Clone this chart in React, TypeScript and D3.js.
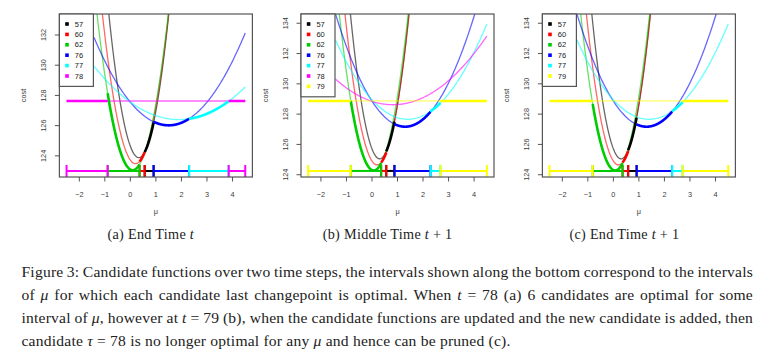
import * as d3 from "d3";
import { useEffect, useRef } from "react";

// R default palette, one colour per candidate last changepoint
const candColor: Record<number, string> = {
  57: "#000000",
  60: "#FF0000",
  62: "#00CD00",
  76: "#0000FF",
  77: "#00FFFF",
  78: "#FF00FF",
  79: "#FFFF00",
};

const xTicks = [-2, -1, 0, 1, 2, 3, 4];
const xDomain = [-2.78, 4.78];
const curveFrom = -1.43; // quadratic candidates are drawn from here
const flatFrom = -2.5; // flat (newest) candidate drawn from here
const muTo = 4.5;

// (a) End Time t  -- cost = minCost + curv * (mu - argmin)^2
const tauA = [57, 60, 62, 76, 77, 78];
const curvA = [6.9, 5.9, 5.3, 0.68, 0.32, 0];
const argminA = [0.33, 0.2, 0.09, 1.5, 1.9, 0];
const minCostA = [123.88, 123.48, 123.05, 126.02, 126.4, 127.63];
const intervalsA: [number, number, number][] = [
  [78, -2.5, -0.89],
  [62, -0.89, 0.36],
  [60, 0.36, 0.56],
  [57, 0.56, 0.91],
  [76, 0.91, 2.3],
  [77, 2.3, 3.85],
  [78, 3.85, 4.5],
];
const yTicksA = [124, 126, 128, 130, 132];

// (b) Middle Time t+1
const tauB = [57, 60, 62, 76, 77, 78, 79];
const curvB = [7.3, 6.3, 5.67, 1.0, 0.655, 0.335, 0];
const argminB = [0.3, 0.2, 0.07, 1.3, 1.4, 0.82, 0];
const minCostB = [125.05, 124.65, 124.28, 127.17, 127.66, 128.62, 128.87];
const intervalsB: [number, number, number][] = [
  [79, -2.5, -0.83],
  [62, -0.83, 0.36],
  [60, 0.36, 0.56],
  [57, 0.56, 0.88],
  [76, 0.88, 2.29],
  [77, 2.29, 2.68],
  [79, 2.68, 4.5],
];
const yTicksB = [124, 126, 128, 130, 132, 134];

// (c) End Time t+1 (candidate 78 pruned)
const tauC = [57, 60, 62, 76, 77, 79];
const curvC = [7.3, 6.3, 5.67, 1.0, 0.655, 0];
const argminC = [0.3, 0.2, 0.07, 1.3, 1.4, 0];
const minCostC = [125.05, 124.65, 124.28, 127.17, 127.66, 128.87];
const intervalsC: [number, number, number][] = [
  [79, -2.5, -0.81],
  [62, -0.81, 0.36],
  [60, 0.36, 0.58],
  [57, 0.58, 0.91],
  [76, 0.91, 2.3],
  [77, 2.3, 2.71],
  [79, 2.71, 4.5],
];

const subCaptions = [
  { label: "(a) End Time ", it: "t", rest: "" },
  { label: "(b) Middle Time ", it: "t", rest: " + 1" },
  { label: "(c) End Time ", it: "t", rest: " + 1" },
];

const plotTop = 14;
const plotH = 163;
const plotW = 193;
const axisFont = "Liberation Sans, Arial, sans-serif";
const axisGrey = "#3a3a3a";

type PanelProps = {
  id: string;
  left: number;
  tau: number[];
  curv: number[];
  argmin: number[];
  minCost: number[];
  intervals: [number, number, number][];
  yDomain: number[];
  yTicks: number[];
  level: number;
};

function Panel({ id, left, tau, curv, argmin, minCost, intervals, yDomain, yTicks, level }: PanelProps) {
  const x = d3.scaleLinear().domain(xDomain).range([left, left + plotW]);
  const y = d3.scaleLinear().domain(yDomain).range([plotTop + plotH, plotTop]);
  const bottom = plotTop + plotH;
  const cost = (i: number, mu: number) => minCost[i] + curv[i] * (mu - argmin[i]) ** 2;
  const line = d3
    .line<[number, number]>()
    .x((d) => x(d[0]))
    .y((d) => y(d[1]));
  const path = (i: number, lo: number, hi: number) => {
    const n = 160;
    const pts: [number, number][] = d3.range(n + 1).map((k) => {
      const mu = lo + ((hi - lo) * k) / n;
      return [mu, cost(i, mu)];
    });
    return line(pts) || "";
  };
  const ordered = [...intervals].sort((a, b) => a[0] - b[0]);
  const legendH = tau.length * 10.4 + 10;

  return (
    <g>
      <defs>
        <clipPath id={id}>
          <rect x={left} y={plotTop} width={plotW} height={plotH} />
        </clipPath>
      </defs>
      <g clipPath={`url(#${id})`}>
        {tau.map((t, i) => (
          <path
            key={"c" + t}
            d={path(i, curv[i] === 0 ? flatFrom : curveFrom, muTo)}
            fill="none"
            stroke={candColor[t]}
            strokeOpacity={0.6}
            strokeWidth={1.3}
          />
        ))}
        {ordered.map(([t, lo, hi], k) => {
          const i = tau.indexOf(t);
          return (
            <path
              key={"s" + k}
              d={path(i, lo, hi)}
              fill="none"
              stroke={candColor[t]}
              strokeWidth={2.6}
            />
          );
        })}
        {ordered.map(([t, lo, hi], k) => (
          <g key={"i" + k} stroke={candColor[t]} strokeWidth={2}>
            <line x1={x(lo)} x2={x(hi)} y1={y(level)} y2={y(level)} />
            <line x1={x(lo)} x2={x(lo)} y1={y(level) - 6} y2={y(level) + 6} />
            <line x1={x(hi)} x2={x(hi)} y1={y(level) - 6} y2={y(level) + 6} />
          </g>
        ))}
      </g>
      <rect x={left} y={plotTop} width={plotW} height={plotH} fill="none" stroke="#555" strokeWidth={1.2} />
      {xTicks.map((v) => (
        <g key={"x" + v}>
          <line x1={x(v)} x2={x(v)} y1={bottom} y2={bottom + 4.5} stroke="#555" strokeWidth={1} />
          <text
            x={x(v)}
            y={bottom + 19.5}
            textAnchor="middle"
            fontFamily={axisFont}
            fontSize={7.3}
            fill={axisGrey}
          >
            {v < 0 ? "\u2212" + Math.abs(v) : v}
          </text>
        </g>
      ))}
      {yTicks.map((v) => (
        <g key={"y" + v}>
          <line x1={left - 4.5} x2={left} y1={y(v)} y2={y(v)} stroke="#555" strokeWidth={1} />
          <text
            transform={`translate(${left - 13.5},${y(v)}) rotate(-90)`}
            textAnchor="middle"
            fontFamily={axisFont}
            fontSize={7.3}
            fill={axisGrey}
          >
            {v}
          </text>
        </g>
      ))}
      <text
        transform={`translate(${left - 33.5},${plotTop + plotH / 2}) rotate(-90)`}
        textAnchor="middle"
        fontFamily={axisFont}
        fontSize={7.3}
        fill={axisGrey}
      >
        cost
      </text>
      <text
        x={left + plotW / 2}
        y={bottom + 36.5}
        textAnchor="middle"
        fontFamily={axisFont}
        fontSize={7.3}
        fill={axisGrey}
      >
        μ
      </text>
      <rect x={left} y={plotTop} width={34} height={legendH} fill="#fff" stroke="#555" strokeWidth={1.2} />
      {tau.map((t, i) => (
        <g key={"l" + t}>
          <rect x={left + 5.8} y={plotTop + 10 + i * 10.4 - 1.8} width={3.6} height={3.6} fill={candColor[t]} />
          <text
            x={left + 15.4}
            y={plotTop + 10 + i * 10.4 + 2.6}
            fontFamily={axisFont}
            fontSize={7.5}
            fill="#222"
          >
            {t}
          </text>
        </g>
      ))}
    </g>
  );
}

const serif = "Liberation Serif, Times New Roman, serif";

export default function App() {
  const capRef = useRef<SVGGElement>(null);

  // stretch word spacing so the caption lines are justified
  useEffect(() => {
    const g = capRef.current;
    if (!g) return;
    g.querySelectorAll("text[data-justify]").forEach((el) => {
      const t = el as SVGTextElement;
      const target = +(t.getAttribute("data-justify") || 0);
      const spaces = (t.textContent || "").split(" ").length - 1;
      const natural = t.getComputedTextLength();
      if (spaces > 0) t.style.wordSpacing = `${(target - natural) / spaces}px`;
    });
  }, []);

  const capLeft = 21.5;
  const capWidth = 731.5;
  const it = (s: string) => <tspan fontStyle="italic">{s}</tspan>;

  return (
    <svg width={768} height={362} style={{ position: "absolute", left: 0, top: 0, background: "#fff" }}>
      <Panel
        id="pa"
        left={59.4}
        tau={tauA}
        curv={curvA}
        argmin={argminA}
        minCost={minCostA}
        intervals={intervalsA}
        yDomain={[122.6, 133.39]}
        yTicks={yTicksA}
        level={123.0}
      />
      <Panel
        id="pb"
        left={301}
        tau={tauB}
        curv={curvB}
        argmin={argminB}
        minCost={minCostB}
        intervals={intervalsB}
        yDomain={[123.85, 134.61]}
        yTicks={yTicksB}
        level={124.25}
      />
      <Panel
        id="pc"
        left={542.4}
        tau={tauC}
        curv={curvC}
        argmin={argminC}
        minCost={minCostC}
        intervals={intervalsC}
        yDomain={[123.85, 134.61]}
        yTicks={yTicksB}
        level={124.25}
      />
      {subCaptions.map((c, i) => (
        <text
          key={c.label}
          x={150.8 + i * 236.8}
          y={238.5}
          textAnchor="middle"
          fontFamily={serif}
          fontSize={14.2}
          letterSpacing={0.3}
          fill="#222"
        >
          {c.label}
          {it(c.it)}
          {c.rest}
        </text>
      ))}
      <g ref={capRef} fontFamily={serif} fontSize={15.6} letterSpacing={0.2} fill="#222">
        <text x={capLeft} y={276.5} data-justify={capWidth}>
          Figure 3: Candidate functions over two time steps, the intervals shown along the bottom correspond to the
          intervals
        </text>
        <text x={capLeft} y={300} data-justify={capWidth}>
          of {it("μ")} for which each candidate last changepoint is optimal. When {it("t")} = 78 (a) 6 candidates are
          optimal for some
        </text>
        <text x={capLeft} y={323} data-justify={capWidth}>
          interval of {it("μ")}, however at {it("t")} = 79 (b), when the candidate functions are updated and the new
          candidate is added, then
        </text>
        <text x={capLeft} y={346}>
          candidate {it("τ")} = 78 is no longer optimal for any {it("μ")} and hence can be pruned (c).
        </text>
      </g>
    </svg>
  );
}
